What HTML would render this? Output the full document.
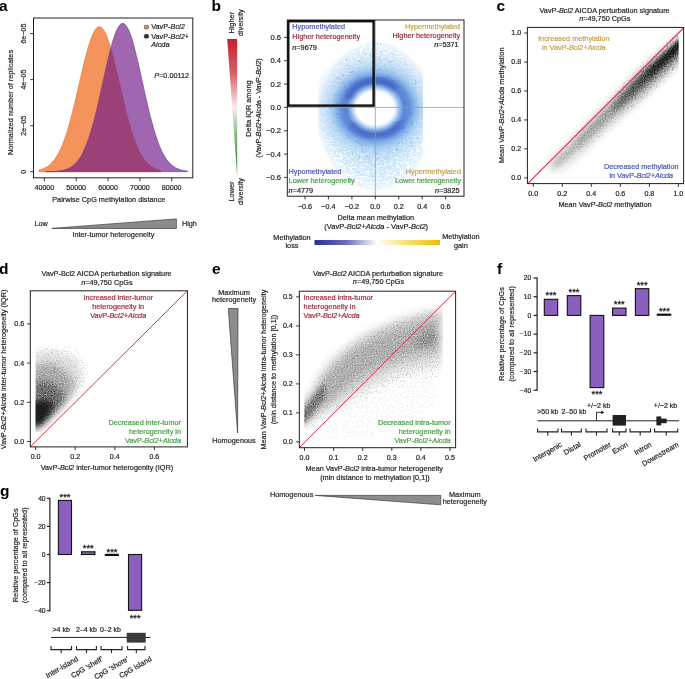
<!DOCTYPE html>
<html><head><meta charset="utf-8"><title>Figure</title>
<style>html,body{margin:0;padding:0;background:#fff}svg{display:block}text{font-family:"Liberation Sans",sans-serif}</style>
</head><body>
<svg width="685" height="679" viewBox="0 0 685 679">
<defs>
<filter id="b1" x="-20%" y="-20%" width="140%" height="140%"><feGaussianBlur stdDeviation="1"/></filter>
<filter id="b2" x="-20%" y="-20%" width="140%" height="140%"><feGaussianBlur stdDeviation="2"/></filter>
<filter id="b3" x="-30%" y="-30%" width="160%" height="160%"><feGaussianBlur stdDeviation="3.5"/></filter>
<filter id="b5" x="-30%" y="-30%" width="160%" height="160%"><feGaussianBlur stdDeviation="5"/></filter>
<filter id="b8" x="-40%" y="-40%" width="180%" height="180%"><feGaussianBlur stdDeviation="8"/></filter>
<filter id="grain" x="0" y="0" width="100%" height="100%" color-interpolation-filters="sRGB"><feTurbulence type="fractalNoise" baseFrequency="0.9" numOctaves="1" seed="7" result="n"/><feComposite in="SourceGraphic" in2="n" operator="arithmetic" k1="1.8" k2="0.1" k3="0" k4="0"/></filter>
<filter id="hgrain" x="-5%" y="-5%" width="110%" height="110%" color-interpolation-filters="sRGB"><feGaussianBlur in="SourceGraphic" stdDeviation="1.5" result="b"/><feTurbulence type="fractalNoise" baseFrequency="0.3 0.55" numOctaves="2" seed="3"/><feColorMatrix type="matrix" values="0 0 0 0 1  0 0 0 0 1  0 0 0 0 1  0 0 0 1 0" result="n"/><feComposite in="b" in2="n" operator="arithmetic" k1="0.9" k2="0.58" k3="0" k4="0"/></filter>
<filter id="speck" x="0" y="0" width="100%" height="100%" color-interpolation-filters="sRGB"><feTurbulence type="fractalNoise" baseFrequency="0.8" numOctaves="2" seed="11" result="n"/><feComposite in="SourceGraphic" in2="n" operator="arithmetic" k1="10" k2="-5.5" k3="0" k4="0"/></filter>
<linearGradient id="rg" x1="0" y1="0" x2="0" y2="1"><stop offset="0" stop-color="#c4202c"/><stop offset="0.25" stop-color="#d9606a"/><stop offset="0.5" stop-color="#f6eeee"/><stop offset="0.72" stop-color="#74b874"/><stop offset="1" stop-color="#2a7a2e"/></linearGradient>
<linearGradient id="by" x1="0" y1="0" x2="1" y2="0"><stop offset="0" stop-color="#2b2f96"/><stop offset="0.25" stop-color="#6a6cc0"/><stop offset="0.5" stop-color="#ffffff"/><stop offset="0.75" stop-color="#f3df6a"/><stop offset="1" stop-color="#f0bc0c"/></linearGradient>
<radialGradient id="ring" cx="0.5" cy="0.5" r="0.5">
<stop offset="0" stop-color="#fff"/><stop offset="0.27" stop-color="#fff"/><stop offset="0.34" stop-color="#a8caf0"/><stop offset="0.42" stop-color="#5c86d8"/><stop offset="0.50" stop-color="#618ddb"/><stop offset="0.58" stop-color="#7fb0e8" stop-opacity="0.9"/><stop offset="0.68" stop-color="#a4caef" stop-opacity="0.65"/><stop offset="0.85" stop-color="#c0daf3" stop-opacity="0.3"/><stop offset="1" stop-color="#c8dff5" stop-opacity="0"/></radialGradient>
<radialGradient id="halo" cx="0.5" cy="0.5" r="0.5">
<stop offset="0" stop-color="#b4d5f2"/><stop offset="0.55" stop-color="#c2dcf4"/><stop offset="0.82" stop-color="#d3e6f7"/><stop offset="0.96" stop-color="#e6f1fb"/><stop offset="1" stop-color="#fff" stop-opacity="0"/></radialGradient>
<clipPath id="cb"><rect x="318" y="24" width="105" height="168"/></clipPath>
<clipPath id="cc"><rect x="526.4" y="26.3" width="157.6" height="156.9"/></clipPath>
<clipPath id="cc2"><rect x="526.4" y="26.3" width="152.2" height="156.9"/></clipPath>
<clipPath id="cd"><rect x="35.6" y="290.6" width="151.6" height="156.1"/></clipPath>
<clipPath id="ce"><rect x="304.3" y="291.2" width="151.3" height="156.5"/></clipPath>
</defs>
<rect width="685" height="679" fill="#fff"/>

<text x="-1.0" y="10.8" font-size="15.5" text-anchor="start" fill="#000" stroke="#000" stroke-width="0" font-weight="bold">a</text>
<text x="211.5" y="10.6" font-size="15.5" text-anchor="start" fill="#000" stroke="#000" stroke-width="0" font-weight="bold">b</text>
<text x="496.5" y="10.6" font-size="15.5" text-anchor="start" fill="#000" stroke="#000" stroke-width="0" font-weight="bold">c</text>
<text x="-1.0" y="274.0" font-size="15.5" text-anchor="start" fill="#000" stroke="#000" stroke-width="0" font-weight="bold">d</text>
<text x="212.0" y="274.0" font-size="15.5" text-anchor="start" fill="#000" stroke="#000" stroke-width="0" font-weight="bold">e</text>
<text x="497.0" y="274.0" font-size="15.5" text-anchor="start" fill="#000" stroke="#000" stroke-width="0" font-weight="bold">f</text>
<text x="0.0" y="496.0" font-size="15.5" text-anchor="start" fill="#000" stroke="#000" stroke-width="0" font-weight="bold">g</text>
<path d="M39.0 171.7L39.0 170.1L40.5 169.7L42.1 169.2L43.6 168.5L45.1 167.8L46.7 166.9L48.2 165.9L49.8 164.7L51.3 163.3L52.8 161.6L54.4 159.7L55.9 157.5L57.5 155.0L59.0 152.2L60.5 149.0L62.1 145.5L63.6 141.6L65.2 137.4L66.7 132.7L68.2 127.7L69.8 122.3L71.3 116.6L72.8 110.7L74.4 104.4L75.9 97.9L77.5 91.3L79.0 84.6L80.5 77.9L82.1 71.3L83.6 64.8L85.2 58.5L86.7 52.6L88.2 47.2L89.8 42.2L91.3 37.8L92.9 34.0L94.4 31.0L95.9 28.8L97.5 27.3L99.0 26.7L100.6 27.0L102.1 28.0L103.6 29.9L105.2 32.6L106.7 36.1L108.2 40.2L109.8 44.9L111.3 50.2L112.9 55.9L114.4 62.0L115.9 68.4L117.5 75.0L119.0 81.7L120.6 88.4L122.1 95.1L123.6 101.6L125.2 107.9L126.7 114.1L128.3 119.9L129.8 125.4L131.3 130.6L132.9 135.4L134.4 139.8L136.0 143.9L137.5 147.5L139.0 150.8L140.6 153.8L142.1 156.4L143.6 158.8L145.2 160.8L146.7 162.6L148.3 164.1L149.8 165.4L151.3 166.5L152.9 167.4L154.4 168.2L156.0 168.9L157.5 169.4L159.0 169.9L160.6 170.3L160.6 171.7Z" fill="#f4945c" stroke="#e0702c" stroke-width="0.6"/>
<path d="M46.0 171.7L46.0 171.6L47.8 171.6L49.6 171.6L51.4 171.5L53.2 171.4L55.0 171.3L56.7 171.2L58.5 171.0L60.3 170.7L62.1 170.4L63.9 170.0L65.7 169.5L67.5 168.8L69.3 168.0L71.1 166.9L72.9 165.7L74.7 164.1L76.5 162.3L78.3 160.1L80.1 157.5L81.9 154.5L83.6 151.0L85.4 147.0L87.2 142.4L89.0 137.3L90.8 131.7L92.6 125.5L94.4 118.9L96.2 111.7L98.0 104.2L99.8 96.3L101.6 88.2L103.4 80.1L105.2 71.9L107.0 63.9L108.7 56.2L110.5 49.0L112.3 42.5L114.1 36.7L115.9 31.8L117.7 27.9L119.5 25.2L121.3 23.6L123.1 23.3L124.9 24.2L126.7 26.2L128.5 29.5L130.3 33.8L132.1 39.1L133.8 45.2L135.6 52.1L137.4 59.5L139.2 67.3L141.0 75.4L142.8 83.6L144.6 91.8L146.4 99.8L148.2 107.5L150.0 114.9L151.8 121.8L153.6 128.3L155.4 134.2L157.2 139.6L158.9 144.4L160.7 148.7L162.5 152.5L164.3 155.8L166.1 158.7L167.9 161.1L169.7 163.1L171.5 164.8L173.3 166.2L175.1 167.4L176.9 168.3L178.7 169.1L180.5 169.7L182.3 170.2L184.0 170.5L185.8 170.8L187.6 171.1L187.6 171.7Z" fill="rgba(111,23,135,0.66)" stroke="#6a2a80" stroke-width="0.5"/>
<rect x="33.5" y="18.0" width="159.3" height="159.8" fill="none" stroke="#231f20" stroke-width="1.0"/>
<line x1="44.4" y1="177.8" x2="44.4" y2="181.0" stroke="#231f20" stroke-width="0.9"/>
<text x="44.4" y="190.3" font-size="7.1" text-anchor="middle" fill="#231f20" stroke="#231f20" stroke-width="0.2">40000</text>
<line x1="76.2" y1="177.8" x2="76.2" y2="181.0" stroke="#231f20" stroke-width="0.9"/>
<text x="76.2" y="190.3" font-size="7.1" text-anchor="middle" fill="#231f20" stroke="#231f20" stroke-width="0.2">50000</text>
<line x1="108.1" y1="177.8" x2="108.1" y2="181.0" stroke="#231f20" stroke-width="0.9"/>
<text x="108.1" y="190.3" font-size="7.1" text-anchor="middle" fill="#231f20" stroke="#231f20" stroke-width="0.2">60000</text>
<line x1="139.9" y1="177.8" x2="139.9" y2="181.0" stroke="#231f20" stroke-width="0.9"/>
<text x="139.9" y="190.3" font-size="7.1" text-anchor="middle" fill="#231f20" stroke="#231f20" stroke-width="0.2">70000</text>
<line x1="171.7" y1="177.8" x2="171.7" y2="181.0" stroke="#231f20" stroke-width="0.9"/>
<text x="171.7" y="190.3" font-size="7.1" text-anchor="middle" fill="#231f20" stroke="#231f20" stroke-width="0.2">80000</text>
<line x1="30.3" y1="171.7" x2="33.5" y2="171.7" stroke="#231f20" stroke-width="0.9"/>
<text x="26.3" y="171.7" font-size="7.1" text-anchor="middle" fill="#231f20" stroke="#231f20" stroke-width="0.2" transform="rotate(-90 26.3 171.7)">0</text>
<line x1="30.3" y1="125.7" x2="33.5" y2="125.7" stroke="#231f20" stroke-width="0.9"/>
<text x="26.3" y="125.7" font-size="7.1" text-anchor="middle" fill="#231f20" stroke="#231f20" stroke-width="0.2" transform="rotate(-90 26.3 125.7)">2e−05</text>
<line x1="30.3" y1="79.6" x2="33.5" y2="79.6" stroke="#231f20" stroke-width="0.9"/>
<text x="26.3" y="79.6" font-size="7.1" text-anchor="middle" fill="#231f20" stroke="#231f20" stroke-width="0.2" transform="rotate(-90 26.3 79.6)">4e−05</text>
<line x1="30.3" y1="33.6" x2="33.5" y2="33.6" stroke="#231f20" stroke-width="0.9"/>
<text x="26.3" y="33.6" font-size="7.1" text-anchor="middle" fill="#231f20" stroke="#231f20" stroke-width="0.2" transform="rotate(-90 26.3 33.6)">6e−05</text>
<text x="108.8" y="202.3" font-size="7.3" text-anchor="middle" fill="#231f20" stroke="#231f20" stroke-width="0.2">Pairwise CpG methylation distance</text>
<text x="13.4" y="102.5" font-size="7.3" text-anchor="middle" fill="#231f20" stroke="#231f20" stroke-width="0.2" transform="rotate(-90 13.4 102.5)">Normalized number of replicates</text>
<rect x="144.4" y="25.6" width="4" height="3.2" rx="0.9" fill="#f4945c" stroke="#6a4020" stroke-width="0.8"/>
<rect x="144.4" y="34.6" width="4" height="3.4" rx="0.9" fill="#45274f" stroke="#2e2233" stroke-width="0.8"/>
<text x="151.2" y="29.4" font-size="7.3" text-anchor="start" fill="#231f20" stroke="#231f20" stroke-width="0.2">VavP-<tspan font-style="italic">Bcl2</tspan></text>
<text x="151.2" y="38.6" font-size="7.3" text-anchor="start" fill="#231f20" stroke="#231f20" stroke-width="0.2">VavP-<tspan font-style="italic">Bcl2</tspan>+</text>
<text x="151.2" y="47.2" font-size="7.3" text-anchor="start" fill="#231f20" stroke="#231f20" stroke-width="0.2"><tspan font-style="italic">Aicda</tspan></text>
<text x="154.2" y="78.4" font-size="7.3" text-anchor="start" fill="#231f20" stroke="#231f20" stroke-width="0.2"><tspan font-style="italic">P</tspan>=0.00112</text>
<path d="M51.8 228.4L176.4 218.9L176.4 228.4Z" fill="#8c8c8c" stroke="#3a3a3a" stroke-width="0.7"/>
<text x="34.5" y="225.8" font-size="7.3" text-anchor="start" fill="#231f20" stroke="#231f20" stroke-width="0.2">Low</text>
<text x="181.9" y="225.8" font-size="7.3" text-anchor="start" fill="#231f20" stroke="#231f20" stroke-width="0.2">High</text>
<text x="113.4" y="236.6" font-size="7.3" text-anchor="middle" fill="#231f20" stroke="#231f20" stroke-width="0.2">Inter-tumor heterogeneity</text>
<g clip-path="url(#cb)">
<ellipse cx="375.3" cy="116.2" rx="57" ry="75" fill="url(#halo)" filter="url(#hgrain)"/>
<ellipse cx="375.3" cy="108.2" rx="68" ry="61" fill="url(#ring)"/>
<ellipse cx="375.3" cy="108.2" rx="19.5" ry="15" fill="#fff" filter="url(#b2)"/>
<path d="M349.0 96.6A29 27.5 0 0 1 393.9 87.1" fill="none" stroke="#2f4cb0" stroke-width="6.5" opacity="0.55" filter="url(#b2)" stroke-linecap="round"/>
<path d="M399.1 123.7A29 27 0 0 1 353.1 125.6" fill="none" stroke="#2f4cb0" stroke-width="6.5" opacity="0.45" filter="url(#b2)" stroke-linecap="round"/>
</g>
<path d="M382.9 178.1h.8M387.2 178.2h.8M337.4 117.4h.8M378.9 58.6h.8M366.8 155.7h.8M410.8 143.2h.8M348.6 128.9h.8M397.9 80.9h.8M348.3 137.7h.8M349.6 72.1h.8M350.4 85.7h.8M368.7 158.6h.8M362.1 151.2h.8M398.2 172.6h.8M403.6 102.2h.8M404.5 120.0h.8M362.5 53.3h.8M412.2 121.3h.8M411.3 113.8h.8M346.1 59.7h.8M372.9 176.9h.8M405.8 64.1h.8M410.3 113.9h.8M408.6 107.3h.8M389.6 61.9h.8M379.9 59.9h.8M401.9 120.7h.8M398.6 143.1h.8M412.7 100.4h.8M390.4 61.7h.8M347.5 65.0h.8M414.9 83.3h.8M387.6 76.2h.8M358.6 143.6h.8M335.3 94.9h.8M403.0 127.2h.8M355.2 147.8h.8M384.4 65.6h.8M352.5 71.8h.8M336.6 79.1h.8M401.2 98.6h.8M393.3 72.1h.8M402.1 143.1h.8M330.2 108.7h.8M357.6 141.3h.8M392.9 80.8h.8M332.8 122.1h.8M340.9 108.3h.8M383.3 76.0h.8M344.9 90.5h.8M417.0 107.3h.8M402.9 128.0h.8M337.2 131.1h.8M359.2 156.6h.8M415.0 80.7h.8M338.6 149.8h.8M362.2 149.2h.8M336.9 103.3h.8M410.7 70.3h.8M380.4 51.3h.8M365.4 54.5h.8M380.2 44.4h.8M356.3 142.5h.8M377.2 158.6h.8M347.8 161.6h.8M407.5 132.6h.8M387.2 70.0h.8M403.2 131.1h.8M411.5 145.8h.8M389.4 152.4h.8M391.9 54.4h.8M337.9 77.4h.8M417.4 138.5h.8M346.8 92.5h.8M393.1 60.5h.8M402.7 109.7h.8M344.7 87.2h.8M357.8 75.5h.8M411.2 124.0h.8M346.4 163.2h.8M342.4 126.3h.8M351.0 72.3h.8M415.7 97.9h.8M345.6 114.1h.8M342.9 75.5h.8M377.0 43.5h.8M382.0 164.1h.8M347.0 135.5h.8M352.0 153.3h.8M345.6 101.0h.8M396.3 149.1h.8M396.2 149.9h.8M359.1 61.4h.8M412.2 112.2h.8M338.5 95.5h.8M369.8 55.9h.8M343.2 82.8h.8M350.0 163.0h.8M350.2 83.7h.8M376.0 153.9h.8M360.6 145.0h.8M388.7 148.1h.8M369.6 161.9h.8M340.6 79.1h.8M355.0 82.5h.8M407.0 75.1h.8M336.7 114.0h.8M346.6 110.6h.8M346.5 59.1h.8M379.0 69.3h.8" stroke="#2a3a6a" stroke-width="0.8" opacity="0.6" fill="none"/>
<line x1="375.3" y1="20.0" x2="375.3" y2="196.2" stroke="#9a9a9a" stroke-width="0.8"/>
<line x1="287.3" y1="107.4" x2="464.0" y2="107.4" stroke="#9a9a9a" stroke-width="0.8"/>
<rect x="287.3" y="20.0" width="176.7" height="176.2" fill="none" stroke="#231f20" stroke-width="1.0"/>
<rect x="288.3" y="21.2" width="85.3" height="84.4" fill="none" stroke="#111" stroke-width="2.4"/>
<line x1="305.0" y1="196.2" x2="305.0" y2="199.4" stroke="#231f20" stroke-width="0.9"/>
<text x="305.0" y="208.6" font-size="7.2" text-anchor="middle" fill="#231f20" stroke="#231f20" stroke-width="0.2">−0.6</text>
<line x1="284.1" y1="177.4" x2="287.3" y2="177.4" stroke="#231f20" stroke-width="0.9"/>
<text x="281.0" y="180.1" font-size="7.6" text-anchor="end" fill="#231f20" stroke="#231f20" stroke-width="0.2">−0.6</text>
<line x1="328.4" y1="196.2" x2="328.4" y2="199.4" stroke="#231f20" stroke-width="0.9"/>
<text x="328.4" y="208.6" font-size="7.2" text-anchor="middle" fill="#231f20" stroke="#231f20" stroke-width="0.2">−0.4</text>
<line x1="284.1" y1="154.1" x2="287.3" y2="154.1" stroke="#231f20" stroke-width="0.9"/>
<text x="281.0" y="156.8" font-size="7.6" text-anchor="end" fill="#231f20" stroke="#231f20" stroke-width="0.2">−0.4</text>
<line x1="351.9" y1="196.2" x2="351.9" y2="199.4" stroke="#231f20" stroke-width="0.9"/>
<text x="351.9" y="208.6" font-size="7.2" text-anchor="middle" fill="#231f20" stroke="#231f20" stroke-width="0.2">−0.2</text>
<line x1="284.1" y1="130.8" x2="287.3" y2="130.8" stroke="#231f20" stroke-width="0.9"/>
<text x="281.0" y="133.4" font-size="7.6" text-anchor="end" fill="#231f20" stroke="#231f20" stroke-width="0.2">−0.2</text>
<line x1="375.3" y1="196.2" x2="375.3" y2="199.4" stroke="#231f20" stroke-width="0.9"/>
<text x="375.3" y="208.6" font-size="7.2" text-anchor="middle" fill="#231f20" stroke="#231f20" stroke-width="0.2">0.0</text>
<line x1="284.1" y1="107.4" x2="287.3" y2="107.4" stroke="#231f20" stroke-width="0.9"/>
<text x="281.0" y="110.1" font-size="7.6" text-anchor="end" fill="#231f20" stroke="#231f20" stroke-width="0.2">0.0</text>
<line x1="398.8" y1="196.2" x2="398.8" y2="199.4" stroke="#231f20" stroke-width="0.9"/>
<text x="398.8" y="208.6" font-size="7.2" text-anchor="middle" fill="#231f20" stroke="#231f20" stroke-width="0.2">0.2</text>
<line x1="284.1" y1="84.1" x2="287.3" y2="84.1" stroke="#231f20" stroke-width="0.9"/>
<text x="281.0" y="86.8" font-size="7.6" text-anchor="end" fill="#231f20" stroke="#231f20" stroke-width="0.2">0.2</text>
<line x1="422.2" y1="196.2" x2="422.2" y2="199.4" stroke="#231f20" stroke-width="0.9"/>
<text x="422.2" y="208.6" font-size="7.2" text-anchor="middle" fill="#231f20" stroke="#231f20" stroke-width="0.2">0.4</text>
<line x1="284.1" y1="60.7" x2="287.3" y2="60.7" stroke="#231f20" stroke-width="0.9"/>
<text x="281.0" y="63.4" font-size="7.6" text-anchor="end" fill="#231f20" stroke="#231f20" stroke-width="0.2">0.4</text>
<line x1="445.6" y1="196.2" x2="445.6" y2="199.4" stroke="#231f20" stroke-width="0.9"/>
<text x="445.6" y="208.6" font-size="7.2" text-anchor="middle" fill="#231f20" stroke="#231f20" stroke-width="0.2">0.6</text>
<line x1="284.1" y1="37.4" x2="287.3" y2="37.4" stroke="#231f20" stroke-width="0.9"/>
<text x="281.0" y="40.1" font-size="7.6" text-anchor="end" fill="#231f20" stroke="#231f20" stroke-width="0.2">0.6</text>
<text x="375.8" y="219.5" font-size="7.3" text-anchor="middle" fill="#231f20" stroke="#231f20" stroke-width="0.2">Delta mean methylation</text>
<text x="376.2" y="228.6" font-size="7.5" text-anchor="middle" fill="#231f20" stroke="#231f20" stroke-width="0.2">(VavP-<tspan font-style="italic">Bcl2+Aicda</tspan> - VavP-<tspan font-style="italic">Bcl2</tspan>)</text>
<text x="251.3" y="108.6" font-size="7.3" text-anchor="middle" fill="#231f20" stroke="#231f20" stroke-width="0.2" transform="rotate(-90 251.3 108.6)">Delta IQR among</text>
<text x="261.0" y="108.1" font-size="7.2" text-anchor="middle" fill="#231f20" stroke="#231f20" stroke-width="0.2" transform="rotate(-90 261.0 108.1)">(VavP-<tspan font-style="italic">Bcl2+Aicda</tspan> - VavP-<tspan font-style="italic">Bcl2</tspan>)</text>
<text x="234.3" y="22.8" font-size="7.3" text-anchor="middle" fill="#231f20" stroke="#231f20" stroke-width="0.2" transform="rotate(-90 234.3 22.8)">Higher</text>
<text x="242.6" y="22.8" font-size="7.3" text-anchor="middle" fill="#231f20" stroke="#231f20" stroke-width="0.2" transform="rotate(-90 242.6 22.8)">diversity</text>
<text x="234.3" y="191.5" font-size="7.3" text-anchor="middle" fill="#231f20" stroke="#231f20" stroke-width="0.2" transform="rotate(-90 234.3 191.5)">Lower</text>
<text x="242.6" y="191.5" font-size="7.3" text-anchor="middle" fill="#231f20" stroke="#231f20" stroke-width="0.2" transform="rotate(-90 242.6 191.5)">diversity</text>
<path d="M227.2 39L237.2 39L237.2 176.5Z" fill="url(#rg)"/>
<rect x="314.5" y="240" width="125.5" height="5" fill="url(#by)"/>
<text x="292.0" y="239.6" font-size="7.3" text-anchor="middle" fill="#231f20" stroke="#231f20" stroke-width="0.2">Methylation</text>
<text x="292.0" y="248.4" font-size="7.3" text-anchor="middle" fill="#231f20" stroke="#231f20" stroke-width="0.2">loss</text>
<text x="460.9" y="239.4" font-size="7.3" text-anchor="middle" fill="#231f20" stroke="#231f20" stroke-width="0.2">Methylation</text>
<text x="460.9" y="248.2" font-size="7.3" text-anchor="middle" fill="#231f20" stroke="#231f20" stroke-width="0.2">gain</text>
<text x="292.3" y="29.2" font-size="7.3" text-anchor="start" fill="#4758ad" stroke="#4758ad" stroke-width="0.2">Hypomethylated</text>
<text x="292.3" y="38.8" font-size="7.3" text-anchor="start" fill="#9c2a3a" stroke="#9c2a3a" stroke-width="0.2">Higher heterogeneity</text>
<text x="292.3" y="49.8" font-size="7.3" text-anchor="start" fill="#231f20" stroke="#231f20" stroke-width="0.2"><tspan font-style="italic">n</tspan>=9679</text>
<text x="460.2" y="28.6" font-size="7.3" text-anchor="end" fill="#c89e48" stroke="#c89e48" stroke-width="0.2">Hypermethylated</text>
<text x="460.2" y="38.2" font-size="7.3" text-anchor="end" fill="#9c2a3a" stroke="#9c2a3a" stroke-width="0.2">Higher heterogeneity</text>
<text x="458.7" y="47.0" font-size="7.3" text-anchor="end" fill="#231f20" stroke="#231f20" stroke-width="0.2"><tspan font-style="italic">n</tspan>=5371</text>
<text x="288.6" y="174.0" font-size="7.3" text-anchor="start" fill="#4758ad" stroke="#4758ad" stroke-width="0.2">Hypomethylated</text>
<text x="288.6" y="183.4" font-size="7.3" text-anchor="start" fill="#46a046" stroke="#46a046" stroke-width="0.2">Lower heterogeneity</text>
<text x="288.6" y="193.0" font-size="7.3" text-anchor="start" fill="#231f20" stroke="#231f20" stroke-width="0.2"><tspan font-style="italic">n</tspan>=4779</text>
<text x="461.0" y="174.2" font-size="7.3" text-anchor="end" fill="#c89e48" stroke="#c89e48" stroke-width="0.2">Hypermethylated</text>
<text x="461.0" y="183.2" font-size="7.3" text-anchor="end" fill="#46a046" stroke="#46a046" stroke-width="0.2">Lower heterogeneity</text>
<text x="459.5" y="193.0" font-size="7.3" text-anchor="end" fill="#231f20" stroke="#231f20" stroke-width="0.2"><tspan font-style="italic">n</tspan>=3825</text>
<g clip-path="url(#cc2)">
<linearGradient id="cg" gradientUnits="userSpaceOnUse" x1="547.8" y1="163.4" x2="678.4" y2="33.0"><stop offset="0" stop-color="#000" stop-opacity="0.25"/><stop offset="0.45" stop-color="#000" stop-opacity="0.35"/><stop offset="0.78" stop-color="#000" stop-opacity="0.75"/><stop offset="1" stop-color="#000" stop-opacity="1"/></linearGradient>
<g filter="url(#speck)" opacity="0.33">
<polygon points="544.9,161.2 552.2,154.0 559.4,146.7 566.7,139.5 573.9,132.3 581.2,125.0 588.4,117.8 595.7,110.5 602.9,103.3 610.2,96.0 617.5,88.8 624.7,81.5 632.0,74.3 639.2,67.1 646.5,60.4 653.7,54.2 661.0,48.0 668.2,41.7 675.5,35.5 682.8,29.3 682.8,62.0 675.5,69.2 668.2,76.5 661.0,83.7 653.7,91.0 646.5,97.9 639.2,104.4 632.0,111.0 624.7,117.5 617.5,124.0 610.2,130.5 602.9,137.0 595.7,143.6 588.4,150.1 581.2,156.6 573.9,163.1 566.7,169.6 559.4,171.6 552.2,172.8 544.9,174.3" fill="url(#cg)" opacity="0.6" filter="url(#b2)"/>
</g>
<g filter="url(#grain)">
<polygon points="547.8,161.2 554.9,154.1 562.0,147.1 569.1,140.0 576.2,132.9 583.3,125.8 590.4,118.7 597.5,111.6 604.6,104.5 611.7,97.4 618.8,90.3 625.9,83.2 633.0,76.1 640.1,69.0 647.2,63.0 654.3,57.3 661.4,51.6 668.5,45.9 675.7,40.3 682.8,34.6 682.8,59.2 675.7,66.3 668.5,73.4 661.4,80.5 654.3,87.6 647.2,94.5 640.1,101.1 633.0,107.7 625.9,114.3 618.8,120.9 611.7,127.5 604.6,134.1 597.5,140.7 590.4,147.3 583.3,153.9 576.2,160.5 569.1,167.1 562.0,171.2 554.9,172.4 547.8,173.8" fill="url(#cg)" opacity="0.3" filter="url(#b3)"/>
<polygon points="550.7,162.7 557.7,155.7 564.6,148.8 571.6,141.9 578.5,134.9 585.5,128.0 592.4,121.0 599.4,114.1 606.3,107.2 613.3,100.2 620.2,93.3 627.2,86.3 634.1,79.4 641.1,72.5 648.0,66.3 655.0,60.4 661.9,54.4 668.9,48.4 675.8,42.5 682.8,36.5 682.8,50.1 675.8,57.0 668.9,64.0 661.9,70.9 655.0,77.9 648.0,84.7 641.1,91.2 634.1,97.8 627.2,104.3 620.2,110.8 613.3,117.3 606.3,123.9 599.4,130.4 592.4,136.9 585.5,143.4 578.5,150.0 571.6,156.5 564.6,162.7 557.7,165.7 550.7,168.8" fill="url(#cg)" opacity="0.32" filter="url(#b2)"/>
<polygon points="576.8,135.9 586.5,126.3 596.1,116.6 605.7,107.0 615.3,97.4 625.0,87.8 634.6,78.2 644.2,68.9 653.9,60.6 663.5,52.3 673.1,44.1 682.8,35.8 682.8,55.3 673.1,64.9 663.5,74.5 653.9,84.2 644.2,93.4 634.6,102.2 625.0,111.1 615.3,119.9 605.7,128.8 596.1,137.6 586.5,146.4 576.8,155.3" fill="url(#cg)" opacity="0.22" filter="url(#b2)"/>
<polygon points="555.1,160.5 566.7,148.9 578.3,137.3 589.9,125.7 601.5,114.1 613.1,102.6 624.7,91.0 636.3,79.4 647.9,68.5 659.5,58.3 671.1,48.1 682.8,37.9 682.8,46.3 671.1,57.9 659.5,69.5 647.9,81.0 636.3,92.2 624.7,103.3 613.1,114.4 601.5,125.6 589.9,136.7 578.3,147.8 566.7,158.9 555.1,170.1" fill="url(#cg)" opacity="0.4" filter="url(#b2)"/>
</g>
<polygon points="613.1,104.0 619.4,97.7 625.8,91.4 632.1,85.0 638.4,78.7 644.8,72.6 651.1,67.0 657.4,61.3 663.8,55.6 670.1,49.9 676.4,44.2 682.8,38.5 682.8,44.6 676.4,50.9 670.1,57.2 663.8,63.6 657.4,69.9 651.1,76.2 644.8,82.5 638.4,88.9 632.1,95.2 625.8,101.5 619.4,107.8 613.1,114.1" fill="url(#cg)" opacity="0.5" filter="url(#b2)"/>
<polygon points="649.4,69.2 652.4,66.5 655.4,63.8 658.5,61.0 661.5,58.3 664.5,55.6 667.6,52.9 670.6,50.1 673.7,47.4 676.7,44.7 679.7,42.0 682.8,39.2 682.8,45.3 679.7,48.3 676.7,51.4 673.7,54.4 670.6,57.4 667.6,60.5 664.5,63.5 661.5,66.5 658.5,69.6 655.4,72.6 652.4,75.6 649.4,78.6" fill="url(#cg)" opacity="0.4" filter="url(#b2)"/>
</g>
<g clip-path="url(#cc)">
<line x1="527.4" y1="183.8" x2="683.6" y2="27.8" stroke="#d62a38" stroke-width="1.1"/>
</g>
<rect x="527.4" y="27.4" width="156.2" height="156.2" fill="none" stroke="#231f20" stroke-width="1.0"/>
<line x1="533.3" y1="183.6" x2="533.3" y2="186.8" stroke="#231f20" stroke-width="0.9"/>
<text x="533.3" y="195.8" font-size="7.1" text-anchor="middle" fill="#231f20" stroke="#231f20" stroke-width="0.2">0.0</text>
<line x1="524.2" y1="177.9" x2="527.4" y2="177.9" stroke="#231f20" stroke-width="0.9"/>
<text x="521.2" y="180.1" font-size="7.1" text-anchor="end" fill="#231f20" stroke="#231f20" stroke-width="0.2">0.0</text>
<line x1="562.3" y1="183.6" x2="562.3" y2="186.8" stroke="#231f20" stroke-width="0.9"/>
<text x="562.3" y="195.8" font-size="7.1" text-anchor="middle" fill="#231f20" stroke="#231f20" stroke-width="0.2">0.2</text>
<line x1="524.2" y1="148.9" x2="527.4" y2="148.9" stroke="#231f20" stroke-width="0.9"/>
<text x="521.2" y="151.1" font-size="7.1" text-anchor="end" fill="#231f20" stroke="#231f20" stroke-width="0.2">0.2</text>
<line x1="591.3" y1="183.6" x2="591.3" y2="186.8" stroke="#231f20" stroke-width="0.9"/>
<text x="591.3" y="195.8" font-size="7.1" text-anchor="middle" fill="#231f20" stroke="#231f20" stroke-width="0.2">0.4</text>
<line x1="524.2" y1="119.9" x2="527.4" y2="119.9" stroke="#231f20" stroke-width="0.9"/>
<text x="521.2" y="122.1" font-size="7.1" text-anchor="end" fill="#231f20" stroke="#231f20" stroke-width="0.2">0.4</text>
<line x1="620.4" y1="183.6" x2="620.4" y2="186.8" stroke="#231f20" stroke-width="0.9"/>
<text x="620.4" y="195.8" font-size="7.1" text-anchor="middle" fill="#231f20" stroke="#231f20" stroke-width="0.2">0.6</text>
<line x1="524.2" y1="91.0" x2="527.4" y2="91.0" stroke="#231f20" stroke-width="0.9"/>
<text x="521.2" y="93.2" font-size="7.1" text-anchor="end" fill="#231f20" stroke="#231f20" stroke-width="0.2">0.6</text>
<line x1="649.4" y1="183.6" x2="649.4" y2="186.8" stroke="#231f20" stroke-width="0.9"/>
<text x="649.4" y="195.8" font-size="7.1" text-anchor="middle" fill="#231f20" stroke="#231f20" stroke-width="0.2">0.8</text>
<line x1="524.2" y1="62.0" x2="527.4" y2="62.0" stroke="#231f20" stroke-width="0.9"/>
<text x="521.2" y="64.2" font-size="7.1" text-anchor="end" fill="#231f20" stroke="#231f20" stroke-width="0.2">0.8</text>
<line x1="678.4" y1="183.6" x2="678.4" y2="186.8" stroke="#231f20" stroke-width="0.9"/>
<text x="678.4" y="195.8" font-size="7.1" text-anchor="middle" fill="#231f20" stroke="#231f20" stroke-width="0.2">1.0</text>
<line x1="524.2" y1="33.0" x2="527.4" y2="33.0" stroke="#231f20" stroke-width="0.9"/>
<text x="521.2" y="35.2" font-size="7.1" text-anchor="end" fill="#231f20" stroke="#231f20" stroke-width="0.2">1.0</text>
<text x="604.6" y="13.0" font-size="7.3" text-anchor="middle" fill="#231f20" stroke="#231f20" stroke-width="0.2">VavP-<tspan font-style="italic">Bcl2</tspan> AICDA perturbation signature</text>
<text x="604.8" y="21.2" font-size="7.3" text-anchor="middle" fill="#231f20" stroke="#231f20" stroke-width="0.2"><tspan font-style="italic">n</tspan>=49,750 CpGs</text>
<text x="605.0" y="207.2" font-size="7.3" text-anchor="middle" fill="#231f20" stroke="#231f20" stroke-width="0.2">Mean VavP-<tspan font-style="italic">Bcl2</tspan> methylation</text>
<text x="503.6" y="105.2" font-size="7.3" text-anchor="middle" fill="#231f20" stroke="#231f20" stroke-width="0.2" transform="rotate(-90 503.6 105.2)">Mean VavP-<tspan font-style="italic">Bcl2+Aicda</tspan> methylation</text>
<text x="573.8" y="41.2" font-size="7.3" text-anchor="middle" fill="#c89e48" stroke="#c89e48" stroke-width="0.2">Increased methylation</text>
<text x="573.8" y="50.4" font-size="7.3" text-anchor="middle" fill="#c89e48" stroke="#c89e48" stroke-width="0.2">in VavP-<tspan font-style="italic">Bcl2+Aicda</tspan></text>
<text x="641.3" y="168.8" font-size="7.3" text-anchor="middle" fill="#4758ad" stroke="#4758ad" stroke-width="0.2">Decreased methylation</text>
<text x="641.3" y="178.4" font-size="7.3" text-anchor="middle" fill="#4758ad" stroke="#4758ad" stroke-width="0.2">in VavP-<tspan font-style="italic">Bcl2+Aicda</tspan></text>
<g clip-path="url(#cd)">
<g filter="url(#speck)" opacity="0.2">
<polygon points="31.6,435.6 31.6,351.3 47.5,343.5 75.2,349.4 89.1,367.0 85.1,382.7 55.4,414.1" fill="#000" opacity="0.45" filter="url(#b3)"/>
</g>
<g filter="url(#grain)">
<polygon points="31.6,431.7 31.6,355.3 51.4,349.4 75.2,359.2 84.1,376.8 75.2,390.5 45.5,421.9" fill="#000" opacity="0.12" filter="url(#b5)"/>
<polygon points="31.6,431.7 31.6,365.3 55.0,363.7 70.8,375.8 75.2,388.6 69.3,398.4 39.6,428.8" fill="#000" opacity="0.22" filter="url(#b3)"/>
<polygon points="31.6,429.7 31.6,383.1 48.1,381.3 60.4,388.4 65.3,399.4 59.4,408.2 39.6,427.8" fill="#000" opacity="0.36" filter="url(#b3)"/>
</g>
<polygon points="31.6,426.2 31.6,400.7 48.1,399.0 55.0,404.3 51.4,414.1 40.9,424.8" fill="#000" opacity="0.5" filter="url(#b2)"/>
<polygon points="31.6,422.9 31.6,404.3 43.5,402.3 49.5,406.2 47.5,414.1 39.6,422.9" fill="#000" opacity="0.45" filter="url(#b2)"/>
</g>
<line x1="30.3" y1="446.9" x2="187.4" y2="290.8" stroke="#d62a38" stroke-width="0.95"/>
<rect x="30.3" y="290.8" width="157.1" height="156.1" fill="none" stroke="#231f20" stroke-width="1.0"/>
<line x1="35.6" y1="446.9" x2="35.6" y2="450.1" stroke="#231f20" stroke-width="0.9"/>
<text x="35.6" y="458.6" font-size="7.1" text-anchor="middle" fill="#231f20" stroke="#231f20" stroke-width="0.2">0.0</text>
<line x1="27.1" y1="441.5" x2="30.3" y2="441.5" stroke="#231f20" stroke-width="0.9"/>
<text x="24.2" y="443.9" font-size="7.1" text-anchor="end" fill="#231f20" stroke="#231f20" stroke-width="0.2">0.0</text>
<line x1="75.2" y1="446.9" x2="75.2" y2="450.1" stroke="#231f20" stroke-width="0.9"/>
<text x="75.2" y="458.6" font-size="7.1" text-anchor="middle" fill="#231f20" stroke="#231f20" stroke-width="0.2">0.2</text>
<line x1="27.1" y1="402.3" x2="30.3" y2="402.3" stroke="#231f20" stroke-width="0.9"/>
<text x="24.2" y="404.7" font-size="7.1" text-anchor="end" fill="#231f20" stroke="#231f20" stroke-width="0.2">0.2</text>
<line x1="114.8" y1="446.9" x2="114.8" y2="450.1" stroke="#231f20" stroke-width="0.9"/>
<text x="114.8" y="458.6" font-size="7.1" text-anchor="middle" fill="#231f20" stroke="#231f20" stroke-width="0.2">0.4</text>
<line x1="27.1" y1="363.1" x2="30.3" y2="363.1" stroke="#231f20" stroke-width="0.9"/>
<text x="24.2" y="365.5" font-size="7.1" text-anchor="end" fill="#231f20" stroke="#231f20" stroke-width="0.2">0.4</text>
<line x1="154.4" y1="446.9" x2="154.4" y2="450.1" stroke="#231f20" stroke-width="0.9"/>
<text x="154.4" y="458.6" font-size="7.1" text-anchor="middle" fill="#231f20" stroke="#231f20" stroke-width="0.2">0.6</text>
<line x1="27.1" y1="323.9" x2="30.3" y2="323.9" stroke="#231f20" stroke-width="0.9"/>
<text x="24.2" y="326.3" font-size="7.1" text-anchor="end" fill="#231f20" stroke="#231f20" stroke-width="0.2">0.6</text>
<text x="106.6" y="276.0" font-size="7.3" text-anchor="middle" fill="#231f20" stroke="#231f20" stroke-width="0.2">VavP-Bcl2 AICDA perturbation signature</text>
<text x="106.9" y="284.8" font-size="7.3" text-anchor="middle" fill="#231f20" stroke="#231f20" stroke-width="0.2"><tspan font-style="italic">n</tspan>=49,750 CpGs</text>
<text x="106.9" y="470.0" font-size="7.27" text-anchor="middle" fill="#231f20" stroke="#231f20" stroke-width="0.2">VavP-<tspan font-style="italic">Bcl2</tspan> inter-tumor heterogenity (IQR)</text>
<text x="6.4" y="369.4" font-size="7.3" text-anchor="middle" fill="#231f20" stroke="#231f20" stroke-width="0.2" transform="rotate(-90 6.4 369.4)">VavP-<tspan font-style="italic">Bcl2+Aicda</tspan> inter-tumor heterogeneity (IQR)</text>
<text x="118.2" y="300.3" font-size="7.3" text-anchor="middle" fill="#9c2a3a" stroke="#9c2a3a" stroke-width="0.2">Increased inter-tumor</text>
<text x="118.2" y="309.1" font-size="7.3" text-anchor="middle" fill="#9c2a3a" stroke="#9c2a3a" stroke-width="0.2">heterogeneity in</text>
<text x="118.2" y="317.9" font-size="7.3" text-anchor="middle" fill="#9c2a3a" stroke="#9c2a3a" stroke-width="0.2">VavP-<tspan font-style="italic">Bcl2+Aicda</tspan></text>
<text x="181.0" y="424.8" font-size="7.3" text-anchor="end" fill="#46a046" stroke="#46a046" stroke-width="0.2">Decreased inter-tumor</text>
<text x="181.0" y="433.6" font-size="7.3" text-anchor="end" fill="#46a046" stroke="#46a046" stroke-width="0.2">heterogeneity in</text>
<text x="181.0" y="443.2" font-size="7.3" text-anchor="end" fill="#46a046" stroke="#46a046" stroke-width="0.2">VavP-<tspan font-style="italic">Bcl2+Aicda</tspan></text>
<g clip-path="url(#ce)">
<g filter="url(#speck)" opacity="0.2">
<polygon points="298.7,399.8 309.6,389.4 320.6,369.9 331.6,358.1 342.6,348.3 353.5,339.9 364.5,332.9 375.5,327.0 386.4,322.1 397.4,317.9 408.4,314.3 419.3,311.4 430.3,308.9 441.3,306.8 441.3,373.5 430.3,375.6 419.3,378.1 408.4,381.0 397.4,384.6 386.4,388.8 375.5,393.7 364.5,399.6 353.5,406.6 342.6,411.6 331.6,414.9 320.6,420.1 309.6,427.4 298.7,431.8" fill="#000" opacity="0.45" filter="url(#b3)"/>
<polygon points="316.1,441.9 362.7,401.3 438.4,337.5 438.4,407.1 391.8,436.1" fill="#000" opacity="0.22" filter="url(#b3)"/>
</g>
<g filter="url(#grain)">
<polygon points="298.7,402.8 309.8,392.6 320.8,373.0 331.9,359.3 343.0,349.3 354.1,341.0 365.2,334.0 376.2,328.1 387.3,323.1 398.4,319.0 409.5,315.5 420.6,312.5 431.6,310.0 442.7,307.9 442.7,364.5 431.6,366.6 420.6,369.1 409.5,372.0 398.4,375.5 387.3,379.7 376.2,384.7 365.2,390.6 354.1,397.6 343.0,404.8 331.9,409.2 320.8,415.4 309.8,423.9 298.7,428.8" fill="#000" opacity="0.11" filter="url(#b5)"/>
<polygon points="298.7,407.1 309.5,397.9 320.4,379.7 331.2,364.3 342.1,354.4 353.0,346.1 363.8,339.1 374.7,333.2 385.5,328.2 396.4,324.0 407.2,320.5 418.1,317.5 429.0,314.9 439.8,312.8 439.8,353.4 429.0,355.5 418.1,358.1 407.2,361.1 396.4,364.6 385.5,368.8 374.7,373.8 363.8,379.7 353.0,386.7 342.1,395.0 331.2,403.9 320.4,411.2 309.5,420.7 298.7,425.9" fill="#000" opacity="0.14" filter="url(#b3)"/>
<polygon points="298.7,408.5 309.3,400.7 319.9,385.1 330.6,373.6 341.2,363.9 351.8,355.6 362.5,348.6 373.1,342.7 383.7,337.7 394.4,333.5 405.0,329.9 415.6,326.8 426.3,324.2 436.9,322.0 436.9,345.2 426.3,347.4 415.6,350.0 405.0,353.1 394.4,356.7 383.7,360.9 373.1,365.9 362.5,371.8 351.8,378.8 341.2,387.1 330.6,396.8 319.9,407.1 309.3,418.5 298.7,424.5" fill="#000" opacity="0.08" filter="url(#b2)"/>
<polygon points="298.7,409.1 303.9,409.1 309.2,402.4 314.4,395.4 319.6,389.0 324.9,383.0 324.9,398.1 319.6,404.1 314.4,410.5 309.2,417.5 303.9,424.2 298.7,424.2" fill="#000" opacity="0.32" filter="url(#b2)"/>
<polygon points="412.2,341.8 426.7,330.2 436.9,330.2 436.9,343.3 420.9,349.1" fill="#000" opacity="0.15" filter="url(#b3)"/>
</g>
</g>
<line x1="299.3" y1="447.7" x2="455.6" y2="291.2" stroke="#d62a38" stroke-width="0.95"/>
<rect x="299.3" y="291.2" width="156.3" height="156.5" fill="none" stroke="#231f20" stroke-width="1.0"/>
<line x1="304.5" y1="447.7" x2="304.5" y2="450.9" stroke="#231f20" stroke-width="0.9"/>
<text x="304.5" y="459.6" font-size="7.1" text-anchor="middle" fill="#231f20" stroke="#231f20" stroke-width="0.2">0.0</text>
<line x1="296.1" y1="441.9" x2="299.3" y2="441.9" stroke="#231f20" stroke-width="0.9"/>
<text x="292.8" y="444.3" font-size="7.1" text-anchor="end" fill="#231f20" stroke="#231f20" stroke-width="0.2">0.0</text>
<line x1="333.6" y1="447.7" x2="333.6" y2="450.9" stroke="#231f20" stroke-width="0.9"/>
<text x="333.6" y="459.6" font-size="7.1" text-anchor="middle" fill="#231f20" stroke="#231f20" stroke-width="0.2">0.1</text>
<line x1="296.1" y1="412.9" x2="299.3" y2="412.9" stroke="#231f20" stroke-width="0.9"/>
<text x="292.8" y="415.3" font-size="7.1" text-anchor="end" fill="#231f20" stroke="#231f20" stroke-width="0.2">0.1</text>
<line x1="362.7" y1="447.7" x2="362.7" y2="450.9" stroke="#231f20" stroke-width="0.9"/>
<text x="362.7" y="459.6" font-size="7.1" text-anchor="middle" fill="#231f20" stroke="#231f20" stroke-width="0.2">0.2</text>
<line x1="296.1" y1="383.9" x2="299.3" y2="383.9" stroke="#231f20" stroke-width="0.9"/>
<text x="292.8" y="386.3" font-size="7.1" text-anchor="end" fill="#231f20" stroke="#231f20" stroke-width="0.2">0.2</text>
<line x1="391.8" y1="447.7" x2="391.8" y2="450.9" stroke="#231f20" stroke-width="0.9"/>
<text x="391.8" y="459.6" font-size="7.1" text-anchor="middle" fill="#231f20" stroke="#231f20" stroke-width="0.2">0.3</text>
<line x1="296.1" y1="354.9" x2="299.3" y2="354.9" stroke="#231f20" stroke-width="0.9"/>
<text x="292.8" y="357.3" font-size="7.1" text-anchor="end" fill="#231f20" stroke="#231f20" stroke-width="0.2">0.3</text>
<line x1="420.9" y1="447.7" x2="420.9" y2="450.9" stroke="#231f20" stroke-width="0.9"/>
<text x="420.9" y="459.6" font-size="7.1" text-anchor="middle" fill="#231f20" stroke="#231f20" stroke-width="0.2">0.4</text>
<line x1="296.1" y1="325.9" x2="299.3" y2="325.9" stroke="#231f20" stroke-width="0.9"/>
<text x="292.8" y="328.3" font-size="7.1" text-anchor="end" fill="#231f20" stroke="#231f20" stroke-width="0.2">0.4</text>
<line x1="450.0" y1="447.7" x2="450.0" y2="450.9" stroke="#231f20" stroke-width="0.9"/>
<text x="450.0" y="459.6" font-size="7.1" text-anchor="middle" fill="#231f20" stroke="#231f20" stroke-width="0.2">0.5</text>
<line x1="296.1" y1="296.9" x2="299.3" y2="296.9" stroke="#231f20" stroke-width="0.9"/>
<text x="292.8" y="299.3" font-size="7.1" text-anchor="end" fill="#231f20" stroke="#231f20" stroke-width="0.2">0.5</text>
<text x="378.0" y="276.0" font-size="7.3" text-anchor="middle" fill="#231f20" stroke="#231f20" stroke-width="0.2">VavP-<tspan font-style="italic">Bcl2</tspan> AICDA perturbation signature</text>
<text x="378.5" y="284.4" font-size="7.3" text-anchor="middle" fill="#231f20" stroke="#231f20" stroke-width="0.2"><tspan font-style="italic">n</tspan>=49,750 CpGs</text>
<text x="374.2" y="471.0" font-size="7.3" text-anchor="middle" fill="#231f20" stroke="#231f20" stroke-width="0.2">Mean VavP-<tspan font-style="italic">Bcl2</tspan> intra-tumor heterogeneity</text>
<text x="374.9" y="479.9" font-size="7.3" text-anchor="middle" fill="#231f20" stroke="#231f20" stroke-width="0.2">(min distance to methylation [0,1])</text>
<text x="266.2" y="369.6" font-size="7.3" text-anchor="middle" fill="#231f20" stroke="#231f20" stroke-width="0.2" transform="rotate(-90 266.2 369.6)">Mean VavP-<tspan font-style="italic">Bcl2+Aicda</tspan> intra-tumor heterogeneity</text>
<text x="276.2" y="369.6" font-size="7.3" text-anchor="middle" fill="#231f20" stroke="#231f20" stroke-width="0.2" transform="rotate(-90 276.2 369.6)">(min distance to methylation [0,1])</text>
<text x="303.6" y="300.2" font-size="7.3" text-anchor="start" fill="#9c2a3a" stroke="#9c2a3a" stroke-width="0.2">Increased intra-tumor</text>
<text x="303.6" y="308.9" font-size="7.3" text-anchor="start" fill="#9c2a3a" stroke="#9c2a3a" stroke-width="0.2">heterogeneity in</text>
<text x="303.6" y="317.6" font-size="7.3" text-anchor="start" fill="#9c2a3a" stroke="#9c2a3a" stroke-width="0.2">VavP-<tspan font-style="italic">Bcl2+Aicda</tspan></text>
<text x="450.6" y="425.4" font-size="7.3" text-anchor="end" fill="#46a046" stroke="#46a046" stroke-width="0.2">Decreased intra-tumor</text>
<text x="450.6" y="434.4" font-size="7.3" text-anchor="end" fill="#46a046" stroke="#46a046" stroke-width="0.2">heterogeneity in</text>
<text x="450.6" y="443.4" font-size="7.3" text-anchor="end" fill="#46a046" stroke="#46a046" stroke-width="0.2">VavP-<tspan font-style="italic">Bcl2+Aicda</tspan></text>
<path d="M228.3 308.5L238 308.5L237.6 433Z" fill="#8c8c8c" stroke="#3a3a3a" stroke-width="0.7"/>
<text x="234.0" y="295.0" font-size="7.3" text-anchor="middle" fill="#231f20" stroke="#231f20" stroke-width="0.2">Maximum</text>
<text x="234.0" y="302.2" font-size="7.3" text-anchor="middle" fill="#231f20" stroke="#231f20" stroke-width="0.2">heterogeneity</text>
<text x="234.0" y="443.4" font-size="7.3" text-anchor="middle" fill="#231f20" stroke="#231f20" stroke-width="0.2">Homogenous</text>
<text x="313.3" y="497.4" font-size="7.3" text-anchor="end" fill="#231f20" stroke="#231f20" stroke-width="0.2">Homogenous</text>
<text x="464.8" y="496.7" font-size="7.3" text-anchor="middle" fill="#231f20" stroke="#231f20" stroke-width="0.2">Maximum</text>
<text x="464.8" y="504.2" font-size="7.3" text-anchor="middle" fill="#231f20" stroke="#231f20" stroke-width="0.2">heterogeneity</text>
<path d="M315.3 495.4L440.7 495.4L440.7 504.8Z" fill="#8c8c8c" stroke="#3a3a3a" stroke-width="0.7"/>
<line x1="537.1" y1="277.4" x2="537.1" y2="390.8" stroke="#231f20" stroke-width="1.2"/>
<line x1="533.6" y1="278.0" x2="537.1" y2="278.0" stroke="#231f20" stroke-width="1.2"/>
<text x="531.2" y="280.3" font-size="6.7" text-anchor="end" fill="#231f20" stroke="#231f20" stroke-width="0.2">20</text>
<line x1="533.6" y1="296.7" x2="537.1" y2="296.7" stroke="#231f20" stroke-width="1.2"/>
<text x="531.2" y="299.0" font-size="6.7" text-anchor="end" fill="#231f20" stroke="#231f20" stroke-width="0.2">10</text>
<line x1="533.6" y1="315.4" x2="537.1" y2="315.4" stroke="#231f20" stroke-width="1.2"/>
<text x="531.2" y="317.7" font-size="6.7" text-anchor="end" fill="#231f20" stroke="#231f20" stroke-width="0.2">0</text>
<line x1="533.6" y1="334.1" x2="537.1" y2="334.1" stroke="#231f20" stroke-width="1.2"/>
<text x="531.2" y="336.4" font-size="6.7" text-anchor="end" fill="#231f20" stroke="#231f20" stroke-width="0.2">−10</text>
<line x1="533.6" y1="352.8" x2="537.1" y2="352.8" stroke="#231f20" stroke-width="1.2"/>
<text x="531.2" y="355.1" font-size="6.7" text-anchor="end" fill="#231f20" stroke="#231f20" stroke-width="0.2">−20</text>
<line x1="533.6" y1="371.5" x2="537.1" y2="371.5" stroke="#231f20" stroke-width="1.2"/>
<text x="531.2" y="373.8" font-size="6.7" text-anchor="end" fill="#231f20" stroke="#231f20" stroke-width="0.2">−30</text>
<line x1="533.6" y1="390.2" x2="537.1" y2="390.2" stroke="#231f20" stroke-width="1.2"/>
<text x="531.2" y="392.5" font-size="6.7" text-anchor="end" fill="#231f20" stroke="#231f20" stroke-width="0.2">−40</text>
<rect x="544.3" y="299.3" width="13.4" height="16.1" fill="#8a5fbf" stroke="#111" stroke-width="1.1"/>
<text x="551.0" y="298.3" font-size="9.3" text-anchor="middle" fill="#231f20" stroke="#231f20" stroke-width="0.3">***</text>
<rect x="567.3" y="295.6" width="13.5" height="19.8" fill="#8a5fbf" stroke="#111" stroke-width="1.1"/>
<text x="574.0" y="294.6" font-size="9.3" text-anchor="middle" fill="#231f20" stroke="#231f20" stroke-width="0.3">***</text>
<rect x="590.1" y="315.4" width="13.7" height="72.2" fill="#8a5fbf" stroke="#111" stroke-width="1.1"/>
<text x="597.0" y="397.2" font-size="9.3" text-anchor="middle" fill="#231f20" stroke="#231f20" stroke-width="0.3">***</text>
<rect x="612.6" y="308.1" width="13.4" height="7.3" fill="#8a5fbf" stroke="#111" stroke-width="1.1"/>
<text x="619.3" y="307.1" font-size="9.3" text-anchor="middle" fill="#231f20" stroke="#231f20" stroke-width="0.3">***</text>
<rect x="635.4" y="288.7" width="13.4" height="26.7" fill="#8a5fbf" stroke="#111" stroke-width="1.1"/>
<text x="642.1" y="287.7" font-size="9.3" text-anchor="middle" fill="#231f20" stroke="#231f20" stroke-width="0.3">***</text>
<line x1="656.8" y1="314.7" x2="671.3" y2="314.7" stroke="#111" stroke-width="2.2"/>
<text x="664.4" y="314.4" font-size="9.3" text-anchor="middle" fill="#231f20" stroke="#231f20" stroke-width="0.3">***</text>
<text x="503.9" y="334.0" font-size="7.3" text-anchor="middle" fill="#231f20" stroke="#231f20" stroke-width="0.2" transform="rotate(-90 503.9 334.0)">Relative percentage of CpGs</text>
<text x="513.8" y="334.0" font-size="7.3" text-anchor="middle" fill="#231f20" stroke="#231f20" stroke-width="0.2" transform="rotate(-90 513.8 334.0)">(compared to all represented)</text>
<line x1="537.6" y1="420.8" x2="679.2" y2="420.8" stroke="#231f20" stroke-width="1.0"/>
<rect x="612.6" y="415" width="13.4" height="10.6" fill="#231f20"/>
<rect x="656.4" y="416.4" width="4.8" height="9" fill="#231f20"/><rect x="661" y="418.6" width="5.6" height="4.6" fill="#231f20"/>
<path d="M596.5 420.8V412.4H602" fill="none" stroke="#231f20" stroke-width="0.9"/><path d="M601.2 410.6L604.4 412.4L601.2 414.2Z" fill="#231f20"/>
<text x="537.2" y="413.6" font-size="7.0" text-anchor="start" fill="#231f20" stroke="#231f20" stroke-width="0.2">&gt;50 kb</text>
<text x="561.5" y="414.4" font-size="7.0" text-anchor="start" fill="#231f20" stroke="#231f20" stroke-width="0.2">2–50 kb</text>
<text x="587.0" y="407.8" font-size="7.0" text-anchor="start" fill="#231f20" stroke="#231f20" stroke-width="0.2">+/−2 kb</text>
<text x="653.8" y="407.8" font-size="7.0" text-anchor="start" fill="#231f20" stroke="#231f20" stroke-width="0.2">+/−2 kb</text>
<path d="M537.6 428.4V431.9H558.0V428.4M547.8 431.9V435.4" fill="none" stroke="#231f20" stroke-width="1.1"/>
<path d="M561.5 428.4V431.9H581.3V428.4M571.4 431.9V435.4" fill="none" stroke="#231f20" stroke-width="1.1"/>
<path d="M586.0 428.4V431.9H607.0V428.4M596.5 431.9V435.4" fill="none" stroke="#231f20" stroke-width="1.1"/>
<path d="M612.6 428.4V431.9H626.0V428.4M619.3 431.9V435.4" fill="none" stroke="#231f20" stroke-width="1.1"/>
<path d="M630.0 428.4V431.9H650.5V428.4M640.2 431.9V435.4" fill="none" stroke="#231f20" stroke-width="1.1"/>
<path d="M654.6 428.4V431.9H677.7V428.4M666.2 431.9V435.4" fill="none" stroke="#231f20" stroke-width="1.1"/>
<text x="562.5" y="446.0" font-size="7.3" text-anchor="end" fill="#231f20" stroke="#231f20" stroke-width="0.2" transform="rotate(-30 562.5 446.0)">Intergenic</text>
<text x="581.4" y="446.0" font-size="7.3" text-anchor="end" fill="#231f20" stroke="#231f20" stroke-width="0.2" transform="rotate(-30 581.4 446.0)">Distal</text>
<text x="611.5" y="446.0" font-size="7.3" text-anchor="end" fill="#231f20" stroke="#231f20" stroke-width="0.2" transform="rotate(-30 611.5 446.0)">Promoter</text>
<text x="628.5" y="446.0" font-size="7.3" text-anchor="end" fill="#231f20" stroke="#231f20" stroke-width="0.2" transform="rotate(-30 628.5 446.0)">Exon</text>
<text x="652.1" y="446.0" font-size="7.3" text-anchor="end" fill="#231f20" stroke="#231f20" stroke-width="0.2" transform="rotate(-30 652.1 446.0)">Intron</text>
<text x="679.3" y="446.0" font-size="7.3" text-anchor="end" fill="#231f20" stroke="#231f20" stroke-width="0.2" transform="rotate(-30 679.3 446.0)">Downstream</text>
<line x1="49.9" y1="497.7" x2="49.9" y2="611.3" stroke="#231f20" stroke-width="1.2"/>
<line x1="46.9" y1="498.3" x2="49.9" y2="498.3" stroke="#231f20" stroke-width="1.2"/>
<text x="45.6" y="500.6" font-size="6.7" text-anchor="end" fill="#231f20" stroke="#231f20" stroke-width="0.2">40</text>
<line x1="46.9" y1="526.4" x2="49.9" y2="526.4" stroke="#231f20" stroke-width="1.2"/>
<text x="45.6" y="528.7" font-size="6.7" text-anchor="end" fill="#231f20" stroke="#231f20" stroke-width="0.2">20</text>
<line x1="46.9" y1="554.5" x2="49.9" y2="554.5" stroke="#231f20" stroke-width="1.2"/>
<text x="45.6" y="556.8" font-size="6.7" text-anchor="end" fill="#231f20" stroke="#231f20" stroke-width="0.2">0</text>
<line x1="46.9" y1="582.6" x2="49.9" y2="582.6" stroke="#231f20" stroke-width="1.2"/>
<text x="45.6" y="584.9" font-size="6.7" text-anchor="end" fill="#231f20" stroke="#231f20" stroke-width="0.2">−20</text>
<line x1="46.9" y1="610.7" x2="49.9" y2="610.7" stroke="#231f20" stroke-width="1.2"/>
<text x="45.6" y="613.0" font-size="6.7" text-anchor="end" fill="#231f20" stroke="#231f20" stroke-width="0.2">−40</text>
<rect x="58.4" y="500.4" width="13.1" height="54.1" fill="#8a5fbf" stroke="#111" stroke-width="1.1"/>
<text x="65.0" y="499.6" font-size="9.3" text-anchor="middle" fill="#231f20" stroke="#231f20" stroke-width="0.3">***</text>
<rect x="81.5" y="551.8" width="13.4" height="2.7" fill="#8a5fbf" stroke="#111" stroke-width="1.1"/>
<text x="88.2" y="551.0" font-size="9.3" text-anchor="middle" fill="#231f20" stroke="#231f20" stroke-width="0.3">***</text>
<rect x="128.5" y="554.5" width="13.1" height="55.8" fill="#8a5fbf" stroke="#111" stroke-width="1.1"/>
<text x="135.1" y="621.1" font-size="9.3" text-anchor="middle" fill="#231f20" stroke="#231f20" stroke-width="0.3">***</text>
<line x1="104.8" y1="554.9" x2="118.9" y2="554.9" stroke="#111" stroke-width="2.2"/>
<text x="112.0" y="554.8" font-size="9.3" text-anchor="middle" fill="#231f20" stroke="#231f20" stroke-width="0.3">***</text>
<text x="17.8" y="555.3" font-size="7.3" text-anchor="middle" fill="#231f20" stroke="#231f20" stroke-width="0.2" transform="rotate(-90 17.8 555.3)">Relative percentage of CpGs</text>
<text x="27.4" y="555.3" font-size="7.3" text-anchor="middle" fill="#231f20" stroke="#231f20" stroke-width="0.2" transform="rotate(-90 27.4 555.3)">(compared to all represented)</text>
<line x1="51.0" y1="637.4" x2="150.4" y2="637.4" stroke="#231f20" stroke-width="1.0"/>
<rect x="126.7" y="632.8" width="19" height="9.8" fill="#3a3a3a"/>
<text x="52.5" y="631.5" font-size="7.0" text-anchor="start" fill="#231f20" stroke="#231f20" stroke-width="0.2">&gt;4 kb</text>
<text x="76.0" y="631.5" font-size="7.0" text-anchor="start" fill="#231f20" stroke="#231f20" stroke-width="0.2">2–4 kb</text>
<text x="100.0" y="631.5" font-size="7.0" text-anchor="start" fill="#231f20" stroke="#231f20" stroke-width="0.2">0–2 kb</text>
<path d="M51.0 646.1V649.6H71.5V646.1M61.2 649.6V653.1" fill="none" stroke="#231f20" stroke-width="1.1"/>
<path d="M76.5 646.1V649.6H96.4V646.1M86.5 649.6V653.1" fill="none" stroke="#231f20" stroke-width="1.1"/>
<path d="M101.0 646.1V649.6H122.0V646.1M111.5 649.6V653.1" fill="none" stroke="#231f20" stroke-width="1.1"/>
<path d="M127.6 646.1V649.6H145.0V646.1M136.3 649.6V653.1" fill="none" stroke="#231f20" stroke-width="1.1"/>
<text x="78.8" y="660.3" font-size="7.3" text-anchor="end" fill="#231f20" stroke="#231f20" stroke-width="0.2" transform="rotate(-30 78.8 660.3)">Inter-island</text>
<text x="103.7" y="660.3" font-size="7.3" text-anchor="end" fill="#231f20" stroke="#231f20" stroke-width="0.2" transform="rotate(-30 103.7 660.3)">CpG ‘shelf’</text>
<text x="129.3" y="660.3" font-size="7.3" text-anchor="end" fill="#231f20" stroke="#231f20" stroke-width="0.2" transform="rotate(-30 129.3 660.3)">CpG ‘shore’</text>
<text x="152.3" y="660.3" font-size="7.3" text-anchor="end" fill="#231f20" stroke="#231f20" stroke-width="0.2" transform="rotate(-30 152.3 660.3)">CpG island</text>
</svg></body></html>
